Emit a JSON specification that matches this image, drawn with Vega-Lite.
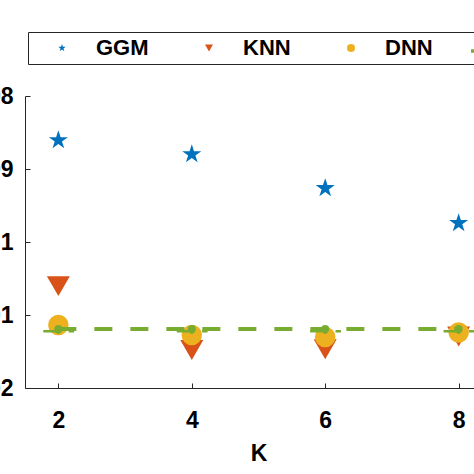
{
  "$schema": "https://vega.github.io/schema/vega-lite/v6.json",
  "autosize": {"type": "none"},
  "padding": {"left": 25, "top": 96, "right": 0, "bottom": 86},
  "width": 467,
  "height": 292,
  "background": "white",
  "config": {
    "view": {"stroke": null},
    "axis": {
      "labelFont": "Liberation Sans",
      "labelFontWeight": "bold",
      "labelFontSize": 23,
      "labelColor": "#000000",
      "titleFont": "Liberation Sans",
      "titleFontWeight": "bold",
      "titleFontSize": 23,
      "titleColor": "#000000",
      "domainColor": "#262626",
      "tickColor": "#262626",
      "grid": false,
      "tickSize": -5
    }
  },
  "encoding": {
    "x": {
      "field": "K", "type": "quantitative",
      "scale": {"domain": [1.5, 8.5], "nice": false, "zero": false},
      "axis": {"values": [2, 4, 6, 8], "title": "K", "labelPadding": 26, "titlePadding": 10}
    },
    "y": {
      "field": "value", "type": "quantitative",
      "scale": {"domain": [0.98, 1.02], "nice": false, "zero": false, "reverse": true},
      "axis": {"values": [0.98, 0.99, 1.0, 1.01, 1.02], "format": ".2~f", "title": null, "labelPadding": 17}
    },
    "color": {
      "field": "method", "type": "nominal",
      "scale": {"domain": ["GGM", "KNN", "DNN", "NPAE"], "range": ["#0072BD", "#D95319", "#EDB120", "#77AC30"]},
      "legend": {
        "orient": "none", "legendX": 3, "legendY": -64,
        "direction": "horizontal", "title": null,
        "strokeColor": "#262626", "fillColor": "white", "padding": 5,
        "symbolSize": 64, "symbolOffset": 18, "labelOffset": 23, "columnPadding": 31,
        "symbolOpacity": 1, "symbolStrokeWidth": 0,
        "labelFont": "Liberation Sans", "labelFontWeight": "bold", "labelFontSize": 22, "labelColor": "#000000"
      }
    },
    "shape": {
      "field": "method", "type": "nominal",
      "scale": {"domain": ["GGM", "KNN", "DNN", "NPAE"], "range": [
        "M0,-1L0.2245,-0.309L0.951,-0.309L0.363,0.118L0.588,0.809L0,0.382L-0.588,0.809L-0.363,0.118L-0.951,-0.309L-0.2245,-0.309Z",
        "triangle-down",
        "circle",
        "M-5.5,0.3L-0.9,0.3L-0.9,1.2L-5.5,1.2Z M-1,0.75L-0.92,0.37L-0.71,0.04L-0.38,-0.17L0,-0.25L0.38,-0.17L0.71,0.04L0.92,0.37L1,0.75L0.92,1.13L0.71,1.46L0.38,1.67L0,1.75L-0.38,1.67L-0.71,1.46L-0.92,1.13Z M3.75,0.3L5.75,0.3L5.75,1.2L3.75,1.2Z"
      ]}
    }
  },
  "layer": [
    {
      "data": {"values": [
        {"K": 2, "method": "GGM", "value": 0.98606},
        {"K": 4, "method": "GGM", "value": 0.98798},
        {"K": 6, "method": "GGM", "value": 0.99263},
        {"K": 8, "method": "GGM", "value": 0.99742}
      ]},
      "mark": {"type": "point", "filled": true, "opacity": 1, "strokeWidth": 0, "size": 400}
    },
    {
      "data": {"values": [
        {"K": 2, "method": "KNN", "value": 1.00604},
        {"K": 4, "method": "KNN", "value": 1.0148},
        {"K": 6, "method": "KNN", "value": 1.0147},
        {"K": 8, "method": "KNN", "value": 1.01295}
      ]},
      "mark": {"type": "point", "filled": true, "opacity": 1, "strokeWidth": 0, "size": 529}
    },
    {
      "data": {"values": [
        {"K": 2, "method": "DNN", "value": 1.01138},
        {"K": 4, "method": "DNN", "value": 1.01275},
        {"K": 6, "method": "DNN", "value": 1.01302},
        {"K": 8, "method": "DNN", "value": 1.0124}
      ]},
      "mark": {"type": "point", "filled": true, "opacity": 1, "strokeWidth": 0, "size": 420}
    },
    {
      "data": {"values": [
        {"K": 2, "method": "NPAE", "value": 1.01193},
        {"K": 4, "method": "NPAE", "value": 1.01193},
        {"K": 6, "method": "NPAE", "value": 1.01193},
        {"K": 8, "method": "NPAE", "value": 1.01193}
      ]},
      "mark": {"type": "line", "color": "#77AC30", "strokeWidth": 4, "strokeDash": [18, 18]},
      "encoding": {"color": {"value": "#77AC30"}}
    },
    {
      "data": {"values": [
        {"K": 2, "method": "NPAE", "value": 1.01193},
        {"K": 4, "method": "NPAE", "value": 1.01193},
        {"K": 6, "method": "NPAE", "value": 1.01193},
        {"K": 8, "method": "NPAE", "value": 1.01193}
      ]},
      "mark": {"type": "point", "filled": true, "opacity": 1, "strokeWidth": 0, "size": 64},
      "encoding": {"color": {"value": "#77AC30"}, "shape": {"value": "circle"}}
    }
  ]
}
